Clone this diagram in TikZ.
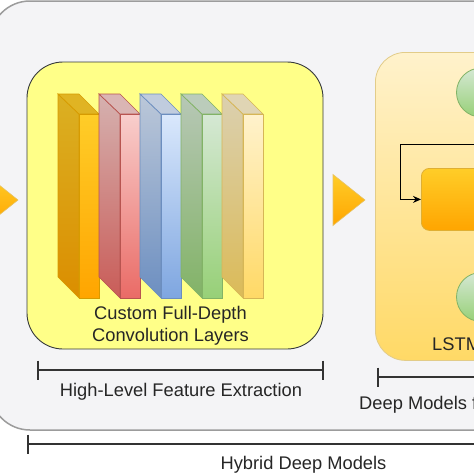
\documentclass[tikz,border=0pt]{standalone}
\usepackage{fontspec}
\setmainfont{Liberation Sans}
\usetikzlibrary{arrows.meta}

\definecolor{outerF}{HTML}{F4F4F6}
\definecolor{outerL}{HTML}{9C9C9C}
\definecolor{convF}{HTML}{FFFF88}
\definecolor{convL}{HTML}{36393D}
\definecolor{orgA}{HTML}{FFCD28}
\definecolor{orgB}{HTML}{FFA500}
\definecolor{orgL}{HTML}{D79B00}
\definecolor{redA}{HTML}{F8CECC}
\definecolor{redB}{HTML}{EA6B66}
\definecolor{redL}{HTML}{B85450}
\definecolor{bluA}{HTML}{DAE8FC}
\definecolor{bluB}{HTML}{7EA6E0}
\definecolor{bluL}{HTML}{6C8EBF}
\definecolor{grnA}{HTML}{D5E8D4}
\definecolor{grnB}{HTML}{97D077}
\definecolor{grnL}{HTML}{82B366}
\definecolor{crmA}{HTML}{FFF2CC}
\definecolor{crmB}{HTML}{FFD966}
\definecolor{crmL}{HTML}{D6B656}
\definecolor{inkL}{HTML}{333333}

\tikzset{
  hybridbox/.style={draw=outerL, line width=1.5, fill=outerF, rounded corners=40},
  convbox/.style={draw=convL, line width=0.9, fill=convF, rounded corners=36,
    minimum width=296, minimum height=287, inner sep=0},
  lstmbox/.style={draw=crmL!70, line width=0.8, top color=crmA, bottom color=crmB,
    rounded corners=30, minimum width=160, minimum height=308, inner sep=0},
  cellbox/.style={draw=orgL!80, line width=0.8, top color=orgA, bottom color=orgB,
    rounded corners=8, minimum width=100, minimum height=62, inner sep=0},
  gatenode/.style={circle, draw=grnL, line width=0.8, top color=grnA, bottom color=grnB,
    minimum size=49, inner sep=0},
  flowtri/.style={draw=orgL!60, line width=0.6, top color=orgA, bottom color=orgB},
  brace/.style={draw=inkL, line width=1.3},
  fbarrow/.style={draw=black, line width=0.9, -{Stealth[length=8,width=7]}},
  lbl/.style={font=\fontsize{18.3}{22}\selectfont, text=black!85, inner sep=0}
}

\begin{document}
\begin{tikzpicture}[x=1pt,y=1pt,yscale=-1,xscale=1]
\clip (0,0) rectangle (474,474);
\fill[white] (0,0) rectangle (474,474);
%Outer hybrid box
\draw[hybridbox] (-10,1) rectangle (520,430);
%Input arrow
\draw[flowtri] (-14,174.5) -- (18,200) -- (-14,225.5) -- cycle;
%Convolution block
\node[convbox] (conv) at (175,205.5) {};
\foreach \x/\c in {58/org,99/red,140/blu,181/grn,222/crm}{
  %side face
  \draw[draw=\c L, line width=0.7, top color=\c A!86!black, bottom color=\c B!86!black]
    (\x,94) -- (\x+21,114) -- (\x+21,298) -- (\x,277) -- cycle;
  %top face
  \draw[draw=\c L, line width=0.7, fill=\c A!88!black]
    (\x,94) -- (\x+21,94) -- (\x+41,114) -- (\x+21,114) -- cycle;
  %front face
  \draw[draw=\c L, line width=0.7, top color=\c A, bottom color=\c B]
    (\x+21,114) rectangle (\x+41,298);
}
\node[lbl, anchor=base] (convtxt1) at (170.5,319) {Custom Full-Depth};
\node[lbl, anchor=base] (convtxt2) at (170.5,341) {Convolution Layers};
%Middle arrow
\draw[flowtri] (333,174.5) -- (365,200) -- (333,225.5) -- cycle;
%LSTM block
\node[lstmbox, anchor=north west] (lstm) at (375,52) {};
\node[gatenode] (gatetop) at (481,92.5) {};
\node[gatenode] (gatebot) at (481,297) {};
\node[cellbox, anchor=north west] (cell) at (421,168) {};
\coordinate (fbin) at (490,144);
\draw[fbarrow] (fbin) -- (400,144) |- (cell.west);
\node[lbl, anchor=base west] (lstmtxt) at (432,350) {LSTM};
%Brackets
\coordinate (hlL) at (38,370);
\coordinate (hlR) at (323,370);
\draw[brace] (hlL) -- (hlR);
\draw[brace] ([yshift=-9.5]hlL) -- ([yshift=9.5]hlL);
\draw[brace] ([yshift=-9.5]hlR) -- ([yshift=9.5]hlR);
\node[lbl, anchor=base] (hlfe) at (181,396) {High-Level Feature Extraction};
\coordinate (dmL) at (378,377);
\coordinate (dmR) at (490,377);
\draw[brace] (dmL) -- (dmR);
\draw[brace] ([yshift=-9.5]dmL) -- ([yshift=9.5]dmL);
\node[lbl, anchor=base west] (dmtxt) at (359,409) {Deep Models for};
\coordinate (hyL) at (28,444);
\coordinate (hyR) at (490,444);
\draw[brace] (hyL) -- (hyR);
\draw[brace] ([yshift=-9.5]hyL) -- ([yshift=9.5]hyL);
\node[lbl, anchor=base] (hytxt) at (303.5,469) {Hybrid Deep Models};
\end{tikzpicture}
\end{document}
